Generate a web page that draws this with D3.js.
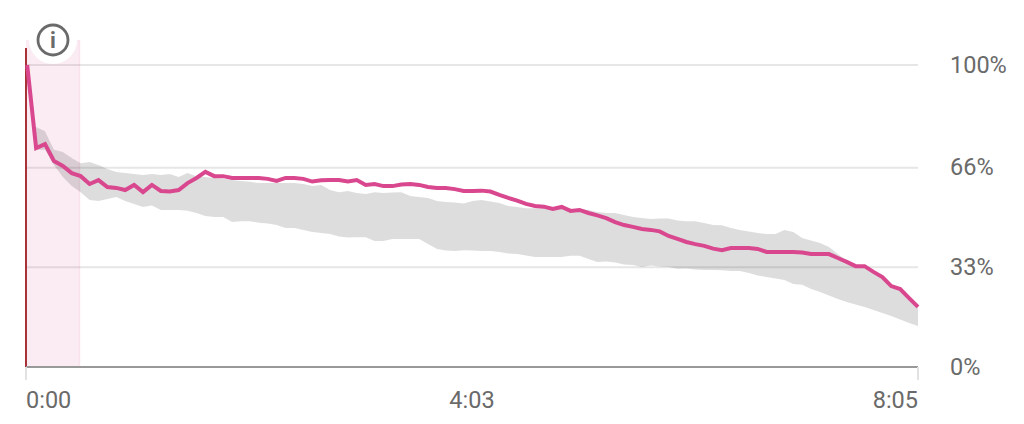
<!DOCTYPE html>
<html><head><meta charset="utf-8">
<script src="https://cdnjs.cloudflare.com/ajax/libs/d3/7.8.5/d3.min.js"></script>
<style>html,body{margin:0;padding:0;background:#fff}svg{display:block}text{font-family:Roboto,sans-serif}</style>
</head><body><svg id="c" width="1024" height="424"></svg>
<script>
const yTicks=[0,33,66,100];
const yLabels=["0%","33%","66%","100%"];
const xTicks=[0,50,100];
const xLabels=["0:00","4:03","8:05"];
const highlightEnd=6;
const retention=[100,72.5,73.8,68.2,66.6,64.2,63.2,60.6,61.9,59.6,59.3,58.6,60.3,57.9,60.3,58.3,58.1,58.6,60.9,62.6,64.6,63.2,63.2,62.6,62.6,62.6,62.6,62.3,61.6,62.6,62.6,62.3,61.4,61.8,61.9,61.9,61.4,61.9,60.3,60.6,59.9,59.9,60.4,60.6,60.3,59.6,59.3,59.3,58.9,58.3,58.3,58.4,58.1,57.0,56.0,55.1,54.0,53.3,53.1,52.3,53.0,51.7,52.0,51.0,50.2,49.3,48.0,47.0,46.4,45.7,45.4,44.9,43.4,42.4,41.4,40.7,40.1,39.2,38.7,39.4,39.4,39.4,39.1,38.1,38.1,38.1,38.1,37.9,37.4,37.4,37.4,36.1,34.8,33.4,33.4,31.5,29.8,26.8,25.8,22.8,19.9];
const bandUpper=[null,79.5,78.1,71.9,71.2,69.2,67.5,67.9,66.9,65.6,64.6,64.2,63.9,63.6,63.9,63.6,63.9,62.9,64.2,63.2,62.9,62.6,62.3,61.9,61.6,61.3,60.9,60.9,60.9,60.9,60.9,60.6,59.9,60.3,58.6,57.9,58.3,57.6,57.3,57.9,57.6,57.8,57.9,56.6,56.3,56.0,55.0,54.6,54.5,54.1,55.0,55.3,54.8,54.3,53.3,53.0,52.6,52.6,52.6,52.6,52.6,52.3,52.3,52.0,51.3,51.0,51.0,50.3,49.7,49.3,49.0,49.2,49.2,48.5,48.3,48.3,47.7,47.0,46.9,46.0,45.4,44.9,44.4,44.0,44.0,45.4,44.7,42.7,41.9,41.1,39.7,37.4,35.1,33.4,33.4,31.5,29.8,27.5,25.8,23.2,20.2];
const bandLower=[null,71.9,71.9,66.9,62.9,59.9,57.9,55.3,55.0,55.6,56.3,55.0,54.0,53.0,53.5,52.0,52.0,52.0,51.7,51.0,50.0,49.7,49.7,48.0,48.3,48.3,47.8,47.5,47.0,46.0,46.0,45.4,44.7,44.4,44.0,43.2,42.9,43.0,43.0,41.7,41.7,42.4,42.4,42.4,42.4,40.7,39.1,38.6,38.4,38.7,38.6,38.4,38.4,38.1,37.6,37.4,36.9,36.4,36.4,36.4,36.4,36.8,36.8,35.8,34.8,34.9,34.6,33.9,33.8,33.1,33.6,33.3,33.1,32.5,32.6,32.3,32.1,32.1,32.0,31.8,31.8,31.1,30.3,29.8,29.3,28.8,27.5,27.2,25.8,24.8,23.7,22.5,21.5,20.7,19.9,18.9,17.9,16.9,15.7,14.6,13.6];

const svg=d3.select("#c");
const x=d3.scaleLinear().domain([0,100]).range([26,918]);
const xLine=d3.scaleLinear().domain([0,100]).range([27.2,918]);
const y=d3.scaleLinear().domain([0,100]).range([367,65]);
const ink="#6a6a6a";

const gy=svg.append("g").attr("transform","translate(918,0)")
  .call(d3.axisRight(y).tickValues(yTicks).tickSize(-892).tickPadding(32).offset(0)
    .tickFormat((d,i)=>yLabels[i]));
gy.select(".domain").remove();
gy.selectAll("line").attr("stroke","#e6e6e6").attr("stroke-width",2);
gy.selectAll("text").attr("fill",ink).style("font-size","23.5px").style("font-family","Roboto");

svg.append("rect").attr("x",x(0)).attr("y",40).attr("width",x(highlightEnd)-x(0)).attr("height",327).attr("fill","#d9488f").attr("opacity",.105);
svg.append("line").attr("x1",x(highlightEnd)).attr("x2",x(highlightEnd)).attr("y1",40).attr("y2",367).attr("stroke","#d9488f").attr("stroke-opacity",.1).attr("stroke-width",1.5);

const cx=53, cy=40;
svg.append("circle").attr("cx",cx).attr("cy",cy).attr("r",24).attr("fill","#fff");
svg.append("circle").attr("cx",cx).attr("cy",cy).attr("r",15).attr("fill","#fff").attr("stroke",ink).attr("stroke-width",2.8);
svg.append("text").attr("x",cx).attr("y",cy+8).attr("text-anchor","middle").attr("fill",ink).style("font-size","22px").style("font-weight",700).text("i");

const area=d3.area().defined(d=>d!=null).x((d,i)=>xLine(i)).y1(d=>y(d)).y0((d,i)=>y(bandLower[i]));
svg.append("path").datum(bandUpper).attr("d",area).attr("fill","#000").attr("fill-opacity",.135);

svg.append("line").attr("x1",x(0)).attr("x2",x(0)).attr("y1",48).attr("y2",367).attr("stroke","#a83238").attr("stroke-width",2);

const gx=svg.append("g").attr("transform","translate(0,367)")
  .call(d3.axisBottom(x).tickValues(xTicks).tickSize(0).tickPadding(24).offset(0)
    .tickFormat((d,i)=>xLabels[i]));
gx.select(".domain").attr("stroke","#999").attr("stroke-width",2);
gx.selectAll("text").attr("fill",ink).style("font-size","23.5px").style("font-family","Roboto")
  .attr("text-anchor",(d,i)=>i==0?"start":i==2?"end":"middle");
gx.selectAll(".tick").filter((d,i)=>i!=1).select("line").attr("y2",13).attr("stroke","#e2e2e2").attr("stroke-width",2);
gx.selectAll(".tick").filter((d,i)=>i==1).select("line").remove();

svg.append("path").datum(retention).attr("fill","none").attr("stroke","#d9488f").attr("stroke-width",4).attr("stroke-linejoin","miter")
  .attr("d",d3.line().x((d,i)=>xLine(i)).y(d=>y(d)));
</script></body></html>
